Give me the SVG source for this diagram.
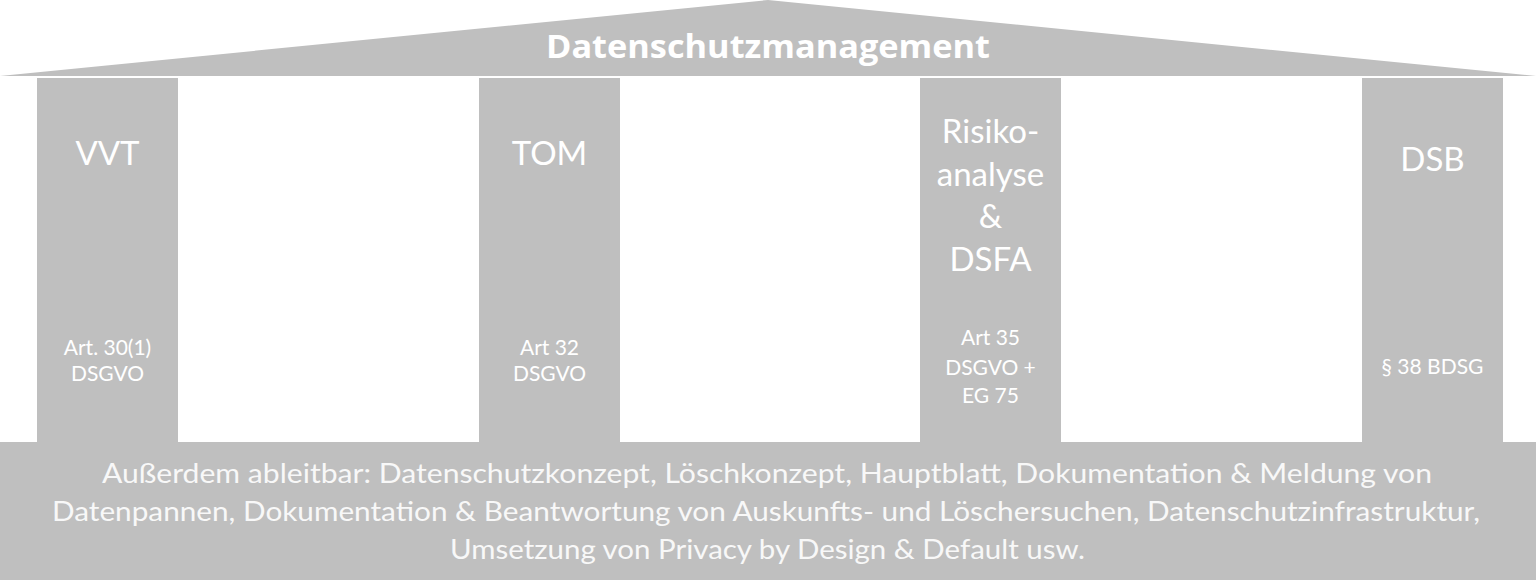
<svg xmlns="http://www.w3.org/2000/svg" width="1536" height="587" viewBox="0 0 1536 587">
  <style>
    .shape { fill: #bfbfbf; }
    .title { font-family: "Open Sans", "Liberation Sans", sans-serif; font-weight: 700; font-size: 32px; fill: #ffffff; text-anchor: middle; }
    .head { font-family: Lato, "Open Sans", "Liberation Sans", sans-serif; font-size: 33px; fill: #ffffff; text-anchor: middle; }
    .law { font-family: Lato, "Open Sans", "Liberation Sans", sans-serif; font-size: 21px; fill: #ffffff; text-anchor: middle; }
    .base { font-family: Lato, "Open Sans", "Liberation Sans", sans-serif; font-size: 26px; fill: #f8f8f8; text-anchor: middle; }
  </style>
  <rect width="1536" height="587" fill="#ffffff"/>

  <g id="roof">
    <polygon class="shape" points="0,76 768,0 1536,76"/>
    <text class="title" x="768" y="58" textLength="444" lengthAdjust="spacingAndGlyphs">Datenschutzmanagement</text>
  </g>

  <g id="pillar-vvt">
    <rect class="shape" x="37" y="78" width="141" height="364"/>
    <text class="head" x="107.5" y="165">VVT</text>
    <text class="law" x="107.5" y="355">Art. 30(1)</text>
    <text class="law" x="107.5" y="381">DSGVO</text>
  </g>

  <g id="pillar-tom">
    <rect class="shape" x="479" y="78" width="141" height="364"/>
    <text class="head" x="549.5" y="165">TOM</text>
    <text class="law" x="549.5" y="355">Art 32</text>
    <text class="law" x="549.5" y="381">DSGVO</text>
  </g>

  <g id="pillar-risiko">
    <rect class="shape" x="920" y="78" width="141" height="364"/>
    <text class="head" x="990.5" y="143">Risiko-</text>
    <text class="head" x="990.5" y="186">analyse</text>
    <text class="head" x="990.5" y="228">&amp;</text>
    <text class="head" x="990.5" y="271">DSFA</text>
    <text class="law" x="990.5" y="345">Art 35</text>
    <text class="law" x="990.5" y="375">DSGVO +</text>
    <text class="law" x="990.5" y="403">EG 75</text>
  </g>

  <g id="pillar-dsb">
    <rect class="shape" x="1362" y="78" width="141" height="364"/>
    <text class="head" x="1432.5" y="171">DSB</text>
    <text class="law" x="1432.5" y="374">§ 38 BDSG</text>
  </g>

  <g id="base">
    <rect class="shape" x="0" y="442" width="1536" height="138"/>
    <text class="base" x="767" y="483" textLength="1330" lengthAdjust="spacingAndGlyphs">Außerdem ableitbar: Datenschutzkonzept, Löschkonzept, Hauptblatt, Dokumentation &amp; Meldung von</text>
    <text class="base" x="766" y="521" textLength="1428" lengthAdjust="spacingAndGlyphs">Datenpannen, Dokumentation &amp; Beantwortung von Auskunfts- und Löschersuchen, Datenschutzinfrastruktur,</text>
    <text class="base" x="767.5" y="559" textLength="635" lengthAdjust="spacingAndGlyphs">Umsetzung von Privacy by Design &amp; Default usw.</text>
  </g>
</svg>
